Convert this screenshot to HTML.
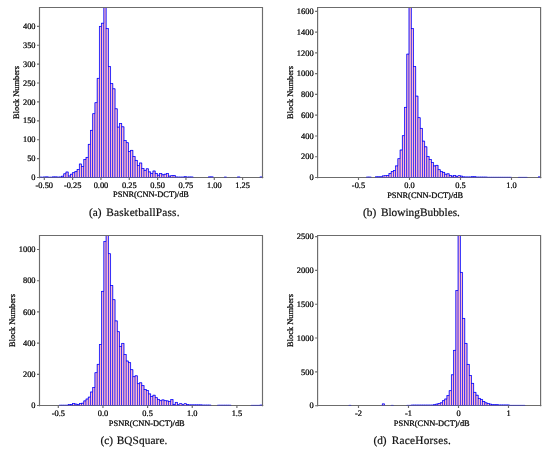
<!DOCTYPE html>
<html lang="en">
<head>
<meta charset="utf-8">
<title>PSNR histograms</title>
<style>
html,body{margin:0;padding:0;background:#fff;}
body{width:550px;height:451px;overflow:hidden;}
svg{display:block;}
text{font-family:"Liberation Serif","Times New Roman",Times,serif;fill:#000;stroke:#000;stroke-width:0.24px;text-rendering:geometricPrecision;}
.tk{font-size:8.4px;}
.lb{font-size:8.4px;}
.cp{font-size:11.3px;fill:#111;stroke:#111;stroke-width:0.2px;}
.bar{fill:#ffbccb;stroke:#0000ff;stroke-width:0.6;}
.sp{fill:none;stroke:#6c6c6c;stroke-width:1.15;stroke-opacity:1;}
</style>
</head>
<body>
<svg width="550" height="451" viewBox="0 0 550 451">
<rect x="0" y="0" width="550" height="451" fill="#fff"/>
<g id="plot1">
<clipPath id="c0"><rect x="39.5" y="7.5" width="223.0" height="170.5"/></clipPath>
<path class="sp" d="M38.75 177.5H263.25"/>
<g clip-path="url(#c0)"><g>
<rect class="bar" x="39.20" y="177.10" width="2.230" height="0.40"/>
<rect class="bar" x="41.43" y="177.20" width="2.230" height="0.30"/>
<rect class="bar" x="43.66" y="177.00" width="2.230" height="0.50"/>
<rect class="bar" x="45.89" y="176.90" width="2.230" height="0.60"/>
<rect class="bar" x="48.12" y="177.20" width="2.230" height="0.30"/>
<rect class="bar" x="50.35" y="177.20" width="2.230" height="0.30"/>
<rect class="bar" x="52.58" y="176.90" width="2.230" height="0.60"/>
<rect class="bar" x="54.81" y="176.90" width="2.230" height="0.60"/>
<rect class="bar" x="57.04" y="177.10" width="2.230" height="0.40"/>
<rect class="bar" x="59.27" y="177.00" width="2.230" height="0.50"/>
<rect class="bar" x="61.50" y="176.20" width="2.230" height="1.30"/>
<rect class="bar" x="63.73" y="173.80" width="2.230" height="3.70"/>
<rect class="bar" x="65.96" y="172.00" width="2.230" height="5.50"/>
<rect class="bar" x="68.19" y="176.00" width="2.230" height="1.50"/>
<rect class="bar" x="70.42" y="174.20" width="2.230" height="3.30"/>
<rect class="bar" x="72.65" y="172.70" width="2.230" height="4.80"/>
<rect class="bar" x="74.88" y="171.60" width="2.230" height="5.90"/>
<rect class="bar" x="77.11" y="169.50" width="2.230" height="8.00"/>
<rect class="bar" x="79.34" y="164.00" width="2.230" height="13.50"/>
<rect class="bar" x="81.57" y="166.50" width="2.230" height="11.00"/>
<rect class="bar" x="83.80" y="159.50" width="2.230" height="18.00"/>
<rect class="bar" x="86.03" y="157.40" width="2.230" height="20.10"/>
<rect class="bar" x="88.26" y="144.30" width="2.230" height="33.20"/>
<rect class="bar" x="90.49" y="130.30" width="2.230" height="47.20"/>
<rect class="bar" x="92.72" y="113.70" width="2.230" height="63.80"/>
<rect class="bar" x="94.95" y="102.70" width="2.230" height="74.80"/>
<rect class="bar" x="97.18" y="78.30" width="2.230" height="99.20"/>
<rect class="bar" x="99.41" y="26.40" width="2.230" height="151.10"/>
<rect class="bar" x="101.64" y="23.20" width="2.230" height="154.30"/>
<rect class="bar" x="103.87" y="2.50" width="2.230" height="175.00"/>
<rect class="bar" x="106.10" y="28.65" width="2.230" height="148.85"/>
<rect class="bar" x="108.33" y="66.60" width="2.230" height="110.90"/>
<rect class="bar" x="110.56" y="83.60" width="2.230" height="93.90"/>
<rect class="bar" x="112.79" y="88.80" width="2.230" height="88.70"/>
<rect class="bar" x="115.02" y="108.80" width="2.230" height="68.70"/>
<rect class="bar" x="117.25" y="127.10" width="2.230" height="50.40"/>
<rect class="bar" x="119.48" y="123.50" width="2.230" height="54.00"/>
<rect class="bar" x="121.71" y="126.80" width="2.230" height="50.70"/>
<rect class="bar" x="123.94" y="140.50" width="2.230" height="37.00"/>
<rect class="bar" x="126.17" y="142.70" width="2.230" height="34.80"/>
<rect class="bar" x="128.40" y="151.50" width="2.230" height="26.00"/>
<rect class="bar" x="130.63" y="150.30" width="2.230" height="27.20"/>
<rect class="bar" x="132.86" y="156.50" width="2.230" height="21.00"/>
<rect class="bar" x="135.09" y="160.40" width="2.230" height="17.10"/>
<rect class="bar" x="137.32" y="165.50" width="2.230" height="12.00"/>
<rect class="bar" x="139.55" y="163.00" width="2.230" height="14.50"/>
<rect class="bar" x="141.78" y="168.50" width="2.230" height="9.00"/>
<rect class="bar" x="144.01" y="170.40" width="2.230" height="7.10"/>
<rect class="bar" x="146.24" y="168.80" width="2.230" height="8.70"/>
<rect class="bar" x="148.47" y="171.90" width="2.230" height="5.60"/>
<rect class="bar" x="150.70" y="173.50" width="2.230" height="4.00"/>
<rect class="bar" x="152.93" y="171.00" width="2.230" height="6.50"/>
<rect class="bar" x="155.16" y="173.50" width="2.230" height="4.00"/>
<rect class="bar" x="157.39" y="175.20" width="2.230" height="2.30"/>
<rect class="bar" x="159.62" y="173.50" width="2.230" height="4.00"/>
<rect class="bar" x="161.85" y="174.80" width="2.230" height="2.70"/>
<rect class="bar" x="164.08" y="174.20" width="2.230" height="3.30"/>
<rect class="bar" x="166.31" y="173.50" width="2.230" height="4.00"/>
<rect class="bar" x="168.54" y="176.10" width="2.230" height="1.40"/>
<rect class="bar" x="170.77" y="175.70" width="2.230" height="1.80"/>
<rect class="bar" x="173.00" y="175.50" width="2.230" height="2.00"/>
<rect class="bar" x="175.23" y="177.00" width="2.230" height="0.50"/>
<rect class="bar" x="177.46" y="177.10" width="2.230" height="0.40"/>
<rect class="bar" x="179.69" y="177.10" width="2.230" height="0.40"/>
<rect class="bar" x="181.92" y="177.10" width="2.230" height="0.40"/>
<rect class="bar" x="184.15" y="176.70" width="2.230" height="0.80"/>
<rect class="bar" x="186.38" y="177.10" width="2.230" height="0.40"/>
<rect class="bar" x="188.61" y="177.00" width="2.230" height="0.50"/>
<rect class="bar" x="190.84" y="177.00" width="2.230" height="0.50"/>
<rect class="bar" x="208.68" y="176.90" width="2.230" height="0.60"/>
<rect class="bar" x="210.91" y="176.90" width="2.230" height="0.60"/>
<rect class="bar" x="224.29" y="177.10" width="2.230" height="0.40"/>
<rect class="bar" x="237.67" y="177.00" width="2.230" height="0.50"/>
<rect class="bar" x="259.97" y="177.00" width="2.230" height="0.50"/>
<path d="M39.20 177.50V177.10H41.43V177.20H43.66V177.00H45.89V176.90H48.12V177.20H50.35V177.20H52.58V176.90H54.81V176.90H57.04V177.10H59.27V177.00H61.50V176.20H63.73V173.80H65.96V172.00H68.19V176.00H70.42V174.20H72.65V172.70H74.88V171.60H77.11V169.50H79.34V164.00H81.57V166.50H83.80V159.50H86.03V157.40H88.26V144.30H90.49V130.30H92.72V113.70H94.95V102.70H97.18V78.30H99.41V26.40H101.64V23.20H103.87V2.50H106.10V28.65H108.33V66.60H110.56V83.60H112.79V88.80H115.02V108.80H117.25V127.10H119.48V123.50H121.71V126.80H123.94V140.50H126.17V142.70H128.40V151.50H130.63V150.30H132.86V156.50H135.09V160.40H137.32V165.50H139.55V163.00H141.78V168.50H144.01V170.40H146.24V168.80H148.47V171.90H150.70V173.50H152.93V171.00H155.16V173.50H157.39V175.20H159.62V173.50H161.85V174.80H164.08V174.20H166.31V173.50H168.54V176.10H170.77V175.70H173.00V175.50H175.23V177.00H177.46V177.10H179.69V177.10H181.92V177.10H184.15V176.70H186.38V177.10H188.61V177.00H190.84V177.00H193.07V177.50M208.68 177.50V176.90H210.91V176.90H213.14V177.50M224.29 177.50V177.10H226.52V177.50M237.67 177.50V177.00H239.90V177.50M259.97 177.50V177.00H262.20V177.50" fill="none" stroke="#0000ff" stroke-width="0.45" stroke-linejoin="miter"/>
</g></g>
<path class="sp" d="M39.5 178.25V7.5H262.5V178.25"/>
<path class="sp" style="stroke-opacity:0.6" d="M39.5 177.5H262.5"/>
<path class="sp" d="M37.00 177.50H39.5M37.00 158.60H39.5M37.00 139.70H39.5M37.00 120.80H39.5M37.00 101.90H39.5M37.00 83.00H39.5M37.00 64.10H39.5M37.00 45.20H39.5M37.00 26.30H39.5M44.30 177.5V180.00M72.63 177.5V180.00M100.96 177.5V180.00M129.29 177.5V180.00M157.62 177.5V180.00M185.95 177.5V180.00M214.28 177.5V180.00M242.61 177.5V180.00"/>
<text class="tk" x="35.50" y="180.15" text-anchor="end">0</text>
<text class="tk" x="35.50" y="161.25" text-anchor="end">50</text>
<text class="tk" x="35.50" y="142.35" text-anchor="end">100</text>
<text class="tk" x="35.50" y="123.45" text-anchor="end">150</text>
<text class="tk" x="35.50" y="104.55" text-anchor="end">200</text>
<text class="tk" x="35.50" y="85.65" text-anchor="end">250</text>
<text class="tk" x="35.50" y="66.75" text-anchor="end">300</text>
<text class="tk" x="35.50" y="47.85" text-anchor="end">350</text>
<text class="tk" x="35.50" y="28.95" text-anchor="end">400</text>
<text class="tk" x="44.30" y="187.60" text-anchor="middle">-0.50</text>
<text class="tk" x="72.63" y="187.60" text-anchor="middle">-0.25</text>
<text class="tk" x="100.96" y="187.60" text-anchor="middle">0.00</text>
<text class="tk" x="129.29" y="187.60" text-anchor="middle">0.25</text>
<text class="tk" x="157.62" y="187.60" text-anchor="middle">0.50</text>
<text class="tk" x="185.95" y="187.60" text-anchor="middle">0.75</text>
<text class="tk" x="214.28" y="187.60" text-anchor="middle">1.00</text>
<text class="tk" x="242.61" y="187.60" text-anchor="middle">1.25</text>
<text class="lb" x="151.05" y="197.30" text-anchor="middle">PSNR(CNN-DCT)/dB</text>
<text class="lb" transform="translate(19.00 92.50) rotate(-90)" text-anchor="middle">Block Numbers</text>
<text class="cp" x="89.0" y="215.8">(a)</text>
<text class="cp" x="106.3" y="215.8" textLength="73.2" lengthAdjust="spacing">BasketballPass.</text>
</g>
<g id="plot2">
<clipPath id="c1"><rect x="317.6" y="7.5" width="223.0" height="170.5"/></clipPath>
<path class="sp" d="M316.85 177.5H541.35"/>
<g clip-path="url(#c1)"><g>
<rect class="bar" x="366.66" y="177.10" width="2.230" height="0.40"/>
<rect class="bar" x="368.89" y="177.10" width="2.230" height="0.40"/>
<rect class="bar" x="375.58" y="176.80" width="2.230" height="0.70"/>
<rect class="bar" x="377.81" y="176.80" width="2.230" height="0.70"/>
<rect class="bar" x="380.04" y="176.80" width="2.230" height="0.70"/>
<rect class="bar" x="382.27" y="175.90" width="2.230" height="1.60"/>
<rect class="bar" x="384.50" y="175.70" width="2.230" height="1.80"/>
<rect class="bar" x="386.73" y="175.50" width="2.230" height="2.00"/>
<rect class="bar" x="388.96" y="173.50" width="2.230" height="4.00"/>
<rect class="bar" x="391.19" y="171.60" width="2.230" height="5.90"/>
<rect class="bar" x="393.42" y="170.60" width="2.230" height="6.90"/>
<rect class="bar" x="395.65" y="165.90" width="2.230" height="11.60"/>
<rect class="bar" x="397.88" y="158.70" width="2.230" height="18.80"/>
<rect class="bar" x="400.11" y="150.00" width="2.230" height="27.50"/>
<rect class="bar" x="402.34" y="135.70" width="2.230" height="41.80"/>
<rect class="bar" x="404.57" y="107.30" width="2.230" height="70.20"/>
<rect class="bar" x="406.80" y="54.10" width="2.230" height="123.40"/>
<rect class="bar" x="409.03" y="2.50" width="2.230" height="175.00"/>
<rect class="bar" x="411.26" y="28.65" width="2.230" height="148.85"/>
<rect class="bar" x="413.49" y="66.60" width="2.230" height="110.90"/>
<rect class="bar" x="415.72" y="96.10" width="2.230" height="81.40"/>
<rect class="bar" x="417.95" y="117.70" width="2.230" height="59.80"/>
<rect class="bar" x="420.18" y="128.40" width="2.230" height="49.10"/>
<rect class="bar" x="422.41" y="141.10" width="2.230" height="36.40"/>
<rect class="bar" x="424.64" y="146.80" width="2.230" height="30.70"/>
<rect class="bar" x="426.87" y="156.60" width="2.230" height="20.90"/>
<rect class="bar" x="429.10" y="159.50" width="2.230" height="18.00"/>
<rect class="bar" x="431.33" y="162.50" width="2.230" height="15.00"/>
<rect class="bar" x="433.56" y="165.90" width="2.230" height="11.60"/>
<rect class="bar" x="435.79" y="165.30" width="2.230" height="12.20"/>
<rect class="bar" x="438.02" y="169.70" width="2.230" height="7.80"/>
<rect class="bar" x="440.25" y="171.60" width="2.230" height="5.90"/>
<rect class="bar" x="442.48" y="172.30" width="2.230" height="5.20"/>
<rect class="bar" x="444.71" y="174.20" width="2.230" height="3.30"/>
<rect class="bar" x="446.94" y="173.80" width="2.230" height="3.70"/>
<rect class="bar" x="449.17" y="175.50" width="2.230" height="2.00"/>
<rect class="bar" x="451.40" y="176.10" width="2.230" height="1.40"/>
<rect class="bar" x="453.63" y="175.50" width="2.230" height="2.00"/>
<rect class="bar" x="455.86" y="176.30" width="2.230" height="1.20"/>
<rect class="bar" x="458.09" y="175.70" width="2.230" height="1.80"/>
<rect class="bar" x="460.32" y="176.10" width="2.230" height="1.40"/>
<rect class="bar" x="462.55" y="176.90" width="2.230" height="0.60"/>
<rect class="bar" x="464.78" y="177.00" width="2.230" height="0.50"/>
<rect class="bar" x="467.01" y="177.00" width="2.230" height="0.50"/>
<rect class="bar" x="469.24" y="177.00" width="2.230" height="0.50"/>
<rect class="bar" x="471.47" y="176.70" width="2.230" height="0.80"/>
<rect class="bar" x="473.70" y="176.70" width="2.230" height="0.80"/>
<rect class="bar" x="475.93" y="177.10" width="2.230" height="0.40"/>
<rect class="bar" x="478.16" y="177.10" width="2.230" height="0.40"/>
<rect class="bar" x="480.39" y="177.10" width="2.230" height="0.40"/>
<rect class="bar" x="482.62" y="177.10" width="2.230" height="0.40"/>
<rect class="bar" x="484.85" y="177.10" width="2.230" height="0.40"/>
<rect class="bar" x="487.08" y="177.25" width="2.230" height="0.25"/>
<rect class="bar" x="489.31" y="177.25" width="2.230" height="0.25"/>
<rect class="bar" x="491.54" y="177.25" width="2.230" height="0.25"/>
<rect class="bar" x="493.77" y="177.25" width="2.230" height="0.25"/>
<rect class="bar" x="496.00" y="177.25" width="2.230" height="0.25"/>
<rect class="bar" x="498.23" y="177.25" width="2.230" height="0.25"/>
<rect class="bar" x="500.46" y="177.25" width="2.230" height="0.25"/>
<rect class="bar" x="502.69" y="177.25" width="2.230" height="0.25"/>
<rect class="bar" x="504.92" y="177.25" width="2.230" height="0.25"/>
<rect class="bar" x="507.15" y="177.25" width="2.230" height="0.25"/>
<rect class="bar" x="509.38" y="177.25" width="2.230" height="0.25"/>
<rect class="bar" x="518.30" y="177.30" width="2.230" height="0.20"/>
<rect class="bar" x="520.53" y="177.30" width="2.230" height="0.20"/>
<rect class="bar" x="522.76" y="177.30" width="2.230" height="0.20"/>
<rect class="bar" x="524.99" y="177.30" width="2.230" height="0.20"/>
<rect class="bar" x="538.37" y="176.90" width="2.230" height="0.60"/>
<path d="M366.66 177.50V177.10H368.89V177.10H371.12V177.50M375.58 177.50V176.80H377.81V176.80H380.04V176.80H382.27V175.90H384.50V175.70H386.73V175.50H388.96V173.50H391.19V171.60H393.42V170.60H395.65V165.90H397.88V158.70H400.11V150.00H402.34V135.70H404.57V107.30H406.80V54.10H409.03V2.50H411.26V28.65H413.49V66.60H415.72V96.10H417.95V117.70H420.18V128.40H422.41V141.10H424.64V146.80H426.87V156.60H429.10V159.50H431.33V162.50H433.56V165.90H435.79V165.30H438.02V169.70H440.25V171.60H442.48V172.30H444.71V174.20H446.94V173.80H449.17V175.50H451.40V176.10H453.63V175.50H455.86V176.30H458.09V175.70H460.32V176.10H462.55V176.90H464.78V177.00H467.01V177.00H469.24V177.00H471.47V176.70H473.70V176.70H475.93V177.10H478.16V177.10H480.39V177.10H482.62V177.10H484.85V177.10H487.08V177.25H489.31V177.25H491.54V177.25H493.77V177.25H496.00V177.25H498.23V177.25H500.46V177.25H502.69V177.25H504.92V177.25H507.15V177.25H509.38V177.25H511.61V177.50M518.30 177.50V177.30H520.53V177.30H522.76V177.30H524.99V177.30H527.22V177.50M538.37 177.50V176.90H540.60V177.50" fill="none" stroke="#0000ff" stroke-width="0.45" stroke-linejoin="miter"/>
</g></g>
<path class="sp" d="M317.6 178.25V7.5H540.6V178.25"/>
<path class="sp" style="stroke-opacity:0.6" d="M317.6 177.5H540.6"/>
<path class="sp" d="M315.10 177.50H317.6M315.10 156.73H317.6M315.10 135.96H317.6M315.10 115.19H317.6M315.10 94.42H317.6M315.10 73.65H317.6M315.10 52.88H317.6M315.10 32.11H317.6M315.10 11.34H317.6M358.50 177.5V180.00M409.50 177.5V180.00M460.50 177.5V180.00M511.50 177.5V180.00"/>
<text class="tk" x="313.60" y="180.15" text-anchor="end">0</text>
<text class="tk" x="313.60" y="159.38" text-anchor="end">200</text>
<text class="tk" x="313.60" y="138.61" text-anchor="end">400</text>
<text class="tk" x="313.60" y="117.84" text-anchor="end">600</text>
<text class="tk" x="313.60" y="97.07" text-anchor="end">800</text>
<text class="tk" x="313.60" y="76.30" text-anchor="end">1000</text>
<text class="tk" x="313.60" y="55.53" text-anchor="end">1200</text>
<text class="tk" x="313.60" y="34.76" text-anchor="end">1400</text>
<text class="tk" x="313.60" y="13.99" text-anchor="end">1600</text>
<text class="tk" x="358.50" y="187.60" text-anchor="middle">-0.5</text>
<text class="tk" x="409.50" y="187.60" text-anchor="middle">0.0</text>
<text class="tk" x="460.50" y="187.60" text-anchor="middle">0.5</text>
<text class="tk" x="511.50" y="187.60" text-anchor="middle">1.0</text>
<text class="lb" x="425.10" y="198.05" text-anchor="middle">PSNR(CNN-DCT)/dB</text>
<text class="lb" transform="translate(292.70 92.50) rotate(-90)" text-anchor="middle">Block Numbers</text>
<text class="cp" x="363.0" y="215.8">(b)</text>
<text class="cp" x="380.9" y="215.8" textLength="79.0" lengthAdjust="spacing">BlowingBubbles.</text>
</g>
<g id="plot3">
<clipPath id="c2"><rect x="39.5" y="235.5" width="223.0" height="170.5"/></clipPath>
<path class="sp" d="M38.75 405.5H263.25"/>
<g clip-path="url(#c2)"><g>
<rect class="bar" x="59.27" y="405.20" width="2.230" height="0.30"/>
<rect class="bar" x="61.50" y="405.20" width="2.230" height="0.30"/>
<rect class="bar" x="63.73" y="405.20" width="2.230" height="0.30"/>
<rect class="bar" x="65.96" y="405.20" width="2.230" height="0.30"/>
<rect class="bar" x="68.19" y="404.50" width="2.230" height="1.00"/>
<rect class="bar" x="70.42" y="404.50" width="2.230" height="1.00"/>
<rect class="bar" x="72.65" y="403.50" width="2.230" height="2.00"/>
<rect class="bar" x="74.88" y="404.10" width="2.230" height="1.40"/>
<rect class="bar" x="77.11" y="404.50" width="2.230" height="1.00"/>
<rect class="bar" x="79.34" y="403.50" width="2.230" height="2.00"/>
<rect class="bar" x="81.57" y="403.20" width="2.230" height="2.30"/>
<rect class="bar" x="83.80" y="400.90" width="2.230" height="4.60"/>
<rect class="bar" x="86.03" y="399.00" width="2.230" height="6.50"/>
<rect class="bar" x="88.26" y="397.10" width="2.230" height="8.40"/>
<rect class="bar" x="90.49" y="392.00" width="2.230" height="13.50"/>
<rect class="bar" x="92.72" y="387.50" width="2.230" height="18.00"/>
<rect class="bar" x="94.95" y="372.70" width="2.230" height="32.80"/>
<rect class="bar" x="97.18" y="364.30" width="2.230" height="41.20"/>
<rect class="bar" x="99.41" y="344.50" width="2.230" height="61.00"/>
<rect class="bar" x="101.64" y="291.30" width="2.230" height="114.20"/>
<rect class="bar" x="103.87" y="241.40" width="2.230" height="164.10"/>
<rect class="bar" x="106.10" y="230.50" width="2.230" height="175.00"/>
<rect class="bar" x="108.33" y="253.70" width="2.230" height="151.80"/>
<rect class="bar" x="110.56" y="285.50" width="2.230" height="120.00"/>
<rect class="bar" x="112.79" y="299.70" width="2.230" height="105.80"/>
<rect class="bar" x="115.02" y="320.90" width="2.230" height="84.60"/>
<rect class="bar" x="117.25" y="331.70" width="2.230" height="73.80"/>
<rect class="bar" x="119.48" y="346.40" width="2.230" height="59.10"/>
<rect class="bar" x="121.71" y="343.40" width="2.230" height="62.10"/>
<rect class="bar" x="123.94" y="354.50" width="2.230" height="51.00"/>
<rect class="bar" x="126.17" y="361.00" width="2.230" height="44.50"/>
<rect class="bar" x="128.40" y="362.60" width="2.230" height="42.90"/>
<rect class="bar" x="130.63" y="369.70" width="2.230" height="35.80"/>
<rect class="bar" x="132.86" y="376.70" width="2.230" height="28.80"/>
<rect class="bar" x="135.09" y="375.80" width="2.230" height="29.70"/>
<rect class="bar" x="137.32" y="383.70" width="2.230" height="21.80"/>
<rect class="bar" x="139.55" y="382.80" width="2.230" height="22.70"/>
<rect class="bar" x="141.78" y="385.60" width="2.230" height="19.90"/>
<rect class="bar" x="144.01" y="389.50" width="2.230" height="16.00"/>
<rect class="bar" x="146.24" y="390.50" width="2.230" height="15.00"/>
<rect class="bar" x="148.47" y="393.90" width="2.230" height="11.60"/>
<rect class="bar" x="150.70" y="396.50" width="2.230" height="9.00"/>
<rect class="bar" x="152.93" y="395.20" width="2.230" height="10.30"/>
<rect class="bar" x="155.16" y="397.70" width="2.230" height="7.80"/>
<rect class="bar" x="157.39" y="399.40" width="2.230" height="6.10"/>
<rect class="bar" x="159.62" y="400.70" width="2.230" height="4.80"/>
<rect class="bar" x="161.85" y="399.90" width="2.230" height="5.60"/>
<rect class="bar" x="164.08" y="400.70" width="2.230" height="4.80"/>
<rect class="bar" x="166.31" y="400.90" width="2.230" height="4.60"/>
<rect class="bar" x="168.54" y="401.50" width="2.230" height="4.00"/>
<rect class="bar" x="170.77" y="399.60" width="2.230" height="5.90"/>
<rect class="bar" x="173.00" y="404.50" width="2.230" height="1.00"/>
<rect class="bar" x="175.23" y="402.40" width="2.230" height="3.10"/>
<rect class="bar" x="177.46" y="404.70" width="2.230" height="0.80"/>
<rect class="bar" x="179.69" y="403.70" width="2.230" height="1.80"/>
<rect class="bar" x="181.92" y="404.70" width="2.230" height="0.80"/>
<rect class="bar" x="184.15" y="403.70" width="2.230" height="1.80"/>
<rect class="bar" x="186.38" y="404.50" width="2.230" height="1.00"/>
<rect class="bar" x="188.61" y="404.90" width="2.230" height="0.60"/>
<rect class="bar" x="190.84" y="404.90" width="2.230" height="0.60"/>
<rect class="bar" x="193.07" y="404.90" width="2.230" height="0.60"/>
<rect class="bar" x="195.30" y="404.90" width="2.230" height="0.60"/>
<rect class="bar" x="197.53" y="404.90" width="2.230" height="0.60"/>
<rect class="bar" x="199.76" y="404.90" width="2.230" height="0.60"/>
<rect class="bar" x="201.99" y="405.10" width="2.230" height="0.40"/>
<rect class="bar" x="204.22" y="405.10" width="2.230" height="0.40"/>
<rect class="bar" x="206.45" y="405.10" width="2.230" height="0.40"/>
<rect class="bar" x="208.68" y="405.10" width="2.230" height="0.40"/>
<rect class="bar" x="217.60" y="405.20" width="2.230" height="0.30"/>
<rect class="bar" x="219.83" y="405.20" width="2.230" height="0.30"/>
<rect class="bar" x="222.06" y="405.20" width="2.230" height="0.30"/>
<rect class="bar" x="224.29" y="405.20" width="2.230" height="0.30"/>
<rect class="bar" x="226.52" y="405.20" width="2.230" height="0.30"/>
<rect class="bar" x="228.75" y="405.20" width="2.230" height="0.30"/>
<rect class="bar" x="251.05" y="405.30" width="2.230" height="0.20"/>
<rect class="bar" x="253.28" y="405.30" width="2.230" height="0.20"/>
<rect class="bar" x="255.51" y="405.30" width="2.230" height="0.20"/>
<rect class="bar" x="257.74" y="405.30" width="2.230" height="0.20"/>
<rect class="bar" x="259.97" y="405.10" width="2.230" height="0.40"/>
<path d="M59.27 405.50V405.20H61.50V405.20H63.73V405.20H65.96V405.20H68.19V404.50H70.42V404.50H72.65V403.50H74.88V404.10H77.11V404.50H79.34V403.50H81.57V403.20H83.80V400.90H86.03V399.00H88.26V397.10H90.49V392.00H92.72V387.50H94.95V372.70H97.18V364.30H99.41V344.50H101.64V291.30H103.87V241.40H106.10V230.50H108.33V253.70H110.56V285.50H112.79V299.70H115.02V320.90H117.25V331.70H119.48V346.40H121.71V343.40H123.94V354.50H126.17V361.00H128.40V362.60H130.63V369.70H132.86V376.70H135.09V375.80H137.32V383.70H139.55V382.80H141.78V385.60H144.01V389.50H146.24V390.50H148.47V393.90H150.70V396.50H152.93V395.20H155.16V397.70H157.39V399.40H159.62V400.70H161.85V399.90H164.08V400.70H166.31V400.90H168.54V401.50H170.77V399.60H173.00V404.50H175.23V402.40H177.46V404.70H179.69V403.70H181.92V404.70H184.15V403.70H186.38V404.50H188.61V404.90H190.84V404.90H193.07V404.90H195.30V404.90H197.53V404.90H199.76V404.90H201.99V405.10H204.22V405.10H206.45V405.10H208.68V405.10H210.91V405.50M217.60 405.50V405.20H219.83V405.20H222.06V405.20H224.29V405.20H226.52V405.20H228.75V405.20H230.98V405.50M251.05 405.50V405.30H253.28V405.30H255.51V405.30H257.74V405.30H259.97V405.10H262.20V405.50" fill="none" stroke="#0000ff" stroke-width="0.45" stroke-linejoin="miter"/>
</g></g>
<path class="sp" d="M39.5 406.25V235.5H262.5V406.25"/>
<path class="sp" style="stroke-opacity:0.6" d="M39.5 405.5H262.5"/>
<path class="sp" d="M37.00 405.50H39.5M37.00 374.30H39.5M37.00 343.10H39.5M37.00 311.90H39.5M37.00 280.70H39.5M37.00 249.50H39.5M58.30 405.5V408.00M102.95 405.5V408.00M147.60 405.5V408.00M192.25 405.5V408.00M236.90 405.5V408.00"/>
<text class="tk" x="35.50" y="408.15" text-anchor="end">0</text>
<text class="tk" x="35.50" y="376.95" text-anchor="end">200</text>
<text class="tk" x="35.50" y="345.75" text-anchor="end">400</text>
<text class="tk" x="35.50" y="314.55" text-anchor="end">600</text>
<text class="tk" x="35.50" y="283.35" text-anchor="end">800</text>
<text class="tk" x="35.50" y="252.15" text-anchor="end">1000</text>
<text class="tk" x="58.30" y="415.60" text-anchor="middle">-0.5</text>
<text class="tk" x="102.95" y="415.60" text-anchor="middle">0.0</text>
<text class="tk" x="147.60" y="415.60" text-anchor="middle">0.5</text>
<text class="tk" x="192.25" y="415.60" text-anchor="middle">1.0</text>
<text class="tk" x="236.90" y="415.60" text-anchor="middle">1.5</text>
<text class="lb" x="146.80" y="426.10" text-anchor="middle">PSNR(CNN-DCT)/dB</text>
<text class="lb" transform="translate(14.80 320.50) rotate(-90)" text-anchor="middle">Block Numbers</text>
<text class="cp" x="100.4" y="443.8">(c)</text>
<text class="cp" x="116.7" y="443.8" textLength="50.6" lengthAdjust="spacing">BQSquare.</text>
</g>
<g id="plot4">
<clipPath id="c3"><rect x="317.6" y="235.5" width="223.0" height="170.5"/></clipPath>
<path class="sp" d="M316.85 405.5H541.35"/>
<g clip-path="url(#c3)"><g>
<rect class="bar" x="348.82" y="405.30" width="2.230" height="0.20"/>
<rect class="bar" x="382.27" y="403.90" width="2.230" height="1.60"/>
<rect class="bar" x="391.19" y="405.30" width="2.230" height="0.20"/>
<rect class="bar" x="406.80" y="405.30" width="2.230" height="0.20"/>
<rect class="bar" x="409.03" y="405.30" width="2.230" height="0.20"/>
<rect class="bar" x="411.26" y="405.10" width="2.230" height="0.40"/>
<rect class="bar" x="413.49" y="405.10" width="2.230" height="0.40"/>
<rect class="bar" x="415.72" y="405.10" width="2.230" height="0.40"/>
<rect class="bar" x="417.95" y="405.10" width="2.230" height="0.40"/>
<rect class="bar" x="420.18" y="405.10" width="2.230" height="0.40"/>
<rect class="bar" x="422.41" y="405.10" width="2.230" height="0.40"/>
<rect class="bar" x="424.64" y="405.10" width="2.230" height="0.40"/>
<rect class="bar" x="426.87" y="405.10" width="2.230" height="0.40"/>
<rect class="bar" x="429.10" y="405.10" width="2.230" height="0.40"/>
<rect class="bar" x="431.33" y="405.10" width="2.230" height="0.40"/>
<rect class="bar" x="433.56" y="404.70" width="2.230" height="0.80"/>
<rect class="bar" x="435.79" y="404.10" width="2.230" height="1.40"/>
<rect class="bar" x="438.02" y="403.50" width="2.230" height="2.00"/>
<rect class="bar" x="440.25" y="402.80" width="2.230" height="2.70"/>
<rect class="bar" x="442.48" y="400.70" width="2.230" height="4.80"/>
<rect class="bar" x="444.71" y="399.00" width="2.230" height="6.50"/>
<rect class="bar" x="446.94" y="395.60" width="2.230" height="9.90"/>
<rect class="bar" x="449.17" y="390.70" width="2.230" height="14.80"/>
<rect class="bar" x="451.40" y="374.80" width="2.230" height="30.70"/>
<rect class="bar" x="453.63" y="350.30" width="2.230" height="55.20"/>
<rect class="bar" x="455.86" y="290.50" width="2.230" height="115.00"/>
<rect class="bar" x="458.09" y="230.50" width="2.230" height="175.00"/>
<rect class="bar" x="460.32" y="272.40" width="2.230" height="133.10"/>
<rect class="bar" x="462.55" y="318.40" width="2.230" height="87.10"/>
<rect class="bar" x="464.78" y="343.40" width="2.230" height="62.10"/>
<rect class="bar" x="467.01" y="364.40" width="2.230" height="41.10"/>
<rect class="bar" x="469.24" y="375.50" width="2.230" height="30.00"/>
<rect class="bar" x="471.47" y="383.30" width="2.230" height="22.20"/>
<rect class="bar" x="473.70" y="392.30" width="2.230" height="13.20"/>
<rect class="bar" x="475.93" y="395.20" width="2.230" height="10.30"/>
<rect class="bar" x="478.16" y="398.40" width="2.230" height="7.10"/>
<rect class="bar" x="480.39" y="399.40" width="2.230" height="6.10"/>
<rect class="bar" x="482.62" y="401.50" width="2.230" height="4.00"/>
<rect class="bar" x="484.85" y="402.80" width="2.230" height="2.70"/>
<rect class="bar" x="487.08" y="403.50" width="2.230" height="2.00"/>
<rect class="bar" x="489.31" y="404.10" width="2.230" height="1.40"/>
<rect class="bar" x="491.54" y="404.70" width="2.230" height="0.80"/>
<rect class="bar" x="493.77" y="404.70" width="2.230" height="0.80"/>
<rect class="bar" x="496.00" y="404.70" width="2.230" height="0.80"/>
<rect class="bar" x="498.23" y="405.00" width="2.230" height="0.50"/>
<rect class="bar" x="500.46" y="405.00" width="2.230" height="0.50"/>
<rect class="bar" x="502.69" y="405.00" width="2.230" height="0.50"/>
<rect class="bar" x="504.92" y="405.00" width="2.230" height="0.50"/>
<rect class="bar" x="507.15" y="405.00" width="2.230" height="0.50"/>
<rect class="bar" x="509.38" y="405.30" width="2.230" height="0.20"/>
<rect class="bar" x="511.61" y="405.30" width="2.230" height="0.20"/>
<rect class="bar" x="513.84" y="405.30" width="2.230" height="0.20"/>
<rect class="bar" x="516.07" y="405.30" width="2.230" height="0.20"/>
<rect class="bar" x="518.30" y="405.30" width="2.230" height="0.20"/>
<rect class="bar" x="520.53" y="405.30" width="2.230" height="0.20"/>
<rect class="bar" x="522.76" y="405.30" width="2.230" height="0.20"/>
<path d="M348.82 405.50V405.30H351.05V405.50M382.27 405.50V403.90H384.50V405.50M391.19 405.50V405.30H393.42V405.50M406.80 405.50V405.30H409.03V405.30H411.26V405.10H413.49V405.10H415.72V405.10H417.95V405.10H420.18V405.10H422.41V405.10H424.64V405.10H426.87V405.10H429.10V405.10H431.33V405.10H433.56V404.70H435.79V404.10H438.02V403.50H440.25V402.80H442.48V400.70H444.71V399.00H446.94V395.60H449.17V390.70H451.40V374.80H453.63V350.30H455.86V290.50H458.09V230.50H460.32V272.40H462.55V318.40H464.78V343.40H467.01V364.40H469.24V375.50H471.47V383.30H473.70V392.30H475.93V395.20H478.16V398.40H480.39V399.40H482.62V401.50H484.85V402.80H487.08V403.50H489.31V404.10H491.54V404.70H493.77V404.70H496.00V404.70H498.23V405.00H500.46V405.00H502.69V405.00H504.92V405.00H507.15V405.00H509.38V405.30H511.61V405.30H513.84V405.30H516.07V405.30H518.30V405.30H520.53V405.30H522.76V405.30H524.99V405.50" fill="none" stroke="#0000ff" stroke-width="0.45" stroke-linejoin="miter"/>
</g></g>
<path class="sp" d="M317.6 406.25V235.5H540.6V406.25"/>
<path class="sp" style="stroke-opacity:0.6" d="M317.6 405.5H540.6"/>
<path class="sp" d="M315.10 405.70H317.6M315.10 371.87H317.6M315.10 338.04H317.6M315.10 304.21H317.6M315.10 270.38H317.6M315.10 236.55H317.6M358.50 405.5V408.00M408.50 405.5V408.00M458.50 405.5V408.00M508.50 405.5V408.00"/>
<text class="tk" x="313.60" y="408.35" text-anchor="end">0</text>
<text class="tk" x="313.60" y="374.52" text-anchor="end">500</text>
<text class="tk" x="313.60" y="340.69" text-anchor="end">1000</text>
<text class="tk" x="313.60" y="306.86" text-anchor="end">1500</text>
<text class="tk" x="313.60" y="273.03" text-anchor="end">2000</text>
<text class="tk" x="313.60" y="239.20" text-anchor="end">2500</text>
<text class="tk" x="358.50" y="415.60" text-anchor="middle">-2</text>
<text class="tk" x="408.50" y="415.60" text-anchor="middle">-1</text>
<text class="tk" x="458.50" y="415.60" text-anchor="middle">0</text>
<text class="tk" x="508.50" y="415.60" text-anchor="middle">1</text>
<text class="lb" x="431.80" y="426.10" text-anchor="middle">PSNR(CNN-DCT)/dB</text>
<text class="lb" transform="translate(292.70 320.50) rotate(-90)" text-anchor="middle">Block Numbers</text>
<text class="cp" x="373.4" y="443.8">(d)</text>
<text class="cp" x="391.7" y="443.8" textLength="59.2" lengthAdjust="spacing">RaceHorses.</text>
</g>
</svg>
</body>
</html>
